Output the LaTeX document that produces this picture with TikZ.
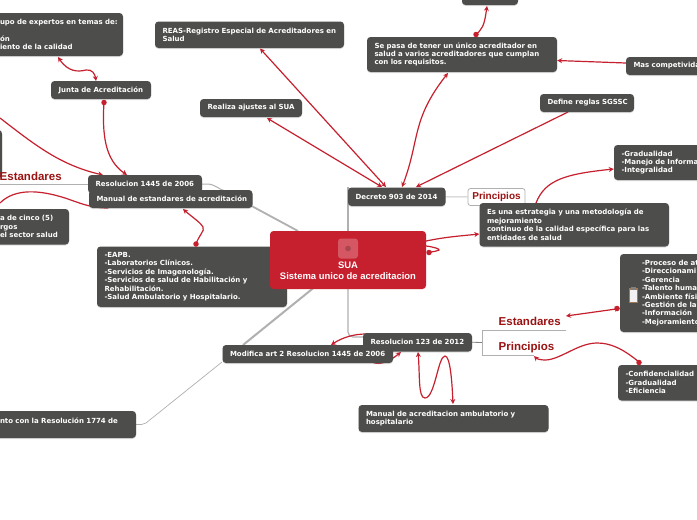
\documentclass[tikz,border=0pt]{standalone}
\usepackage{fontspec}
\setmainfont{DejaVu Sans}
\newfontfamily\arialf{Liberation Sans}
\usetikzlibrary{arrows.meta,shadows,calc}
\definecolor{boxc}{HTML}{4D4D4B}
\definecolor{redc}{HTML}{C6202F}
\definecolor{darkred}{HTML}{9B1212}
\definecolor{trunk}{HTML}{B0B0B0}
\pgfdeclarelayer{back}
\pgfsetlayers{back,main}
\tikzset{
  boxst/.style={fill=boxc,rounded corners=3.5pt,text=white,draw=none,align=left,
    font=\fontsize{7}{8.4}\selectfont\bfseries,inner ysep=0pt,inner xsep=0pt,
    drop shadow={opacity=.25,shadow xshift=0pt,shadow yshift=-1pt}},
  conn/.style={draw=redc,line width=1.2pt,line cap=round},
  arr/.style={conn,-{Stealth[length=5pt,width=5pt]}},
  arrb/.style={conn,{Stealth[length=5pt,width=5pt]}-{Stealth[length=5pt,width=5pt]}},
  dotn/.style={circle,fill=redc,inner sep=0pt,minimum size=5.5pt},
  gline/.style={draw=trunk,line width=1pt},
  headtxt/.style={font=\arialf\fontsize{11.5}{12}\selectfont\bfseries,text=darkred,inner sep=0pt}
}
% name, x1,y1,x2,y2, left pad, text
\newcommand{\bx}[7]{%
  \pgfmathsetmacro{\cxx}{(#2+#4)/2}\pgfmathsetmacro{\cyy}{(#3+#5)/2}%
  \pgfmathsetmacro{\ww}{#4-#2}\pgfmathsetmacro{\hh}{#5-#3}\pgfmathsetmacro{\tw}{#4-#2-2*#6}%
  \node[boxst,minimum width=\ww pt,minimum height=\hh pt,text width=\tw pt] (#1) at (\cxx,\cyy) {#7};}
\begin{document}
\begin{tikzpicture}[x=1pt,y=-1pt]
\useasboundingbox (0,0) rectangle (697,520);
\begin{pgfonlayer}{back}
\fill[white] (0,0) rectangle (697,520);
\end{pgfonlayer}
\clip (0,0) rectangle (697,520);

% boxes
\bx{topb}{462}{-12}{518}{5}{7}{}
\bx{sepasa}{367}{37}{557}{72}{7.5}{Se pasa de tener un único acreditador en\\salud a varios acreditadores que cumplan\\con los requisitos.}
\bx{mas}{626}{57}{720}{75}{7.5}{Mas competividad}
\bx{define}{540}{94}{634}{112}{7.5}{\mbox{Define reglas SGSSC}}
\bx{reas}{155}{21.5}{344}{48}{7.5}{REAS-Registro Especial de Acreditadores en\\Salud}
\bx{realiza}{200}{99}{302}{117}{7.5}{\mbox{Realiza ajustes al SUA}}
\bx{expertos}{-7}{13}{123}{56}{7}{\mbox{upo de expertos en temas de:}\\[8.4pt]ón\\iento de la calidad}
\bx{junta}{51}{81}{151}{99}{7.5}{Junta de Acreditación}
\bx{leftcut}{-30}{130}{2}{178}{4}{}
\bx{r1445}{88}{175}{202}{193}{7.5}{Resolucion 1445 de 2006}
\bx{manual}{89}{190}{252.5}{208}{7.5}{\mbox{Manual de estandares de acreditación}}
\bx{cinco}{-7}{209}{69}{244.5}{7}{a de cinco (5)\\rgos\\el sector salud}
\bx{eapb}{97}{246.5}{287}{307}{7.5}{-EAPB.\\-Laboratorios Clínicos.\\-Servicios de Imagenología.\\-Servicios de salud de Habilitación y\\Rehabilitación.\\-Salud Ambulatorio y Hospitalario.}
\bx{decreto}{348}{187.5}{445.5}{206}{7.5}{Decreto 903 de 2014}
\node[draw=trunk,fill=white,rounded corners=2.5pt,line width=.8pt,minimum width=57pt,minimum height=17pt,inner sep=0pt,text=darkred,font=\arialf\fontsize{10}{12}\selectfont\bfseries] (princ) at (496.5,197) {Principios};
\bx{esuna}{479.5}{203}{669}{246.5}{7.5}{Es una estrategia y una metodología de\\mejoramiento\\continuo de la calidad específica para las\\entidades de salud}
\bx{grad}{614}{145}{720}{180}{7.5}{-Gradualidad\\-Manejo de Informa\\-Integralidad}
\bx{proc}{620}{254}{730}{332}{22}{-Proceso de at\\-Direccionami\\-Gerencia\\-Talento huma\\-Ambiente físi\\-Gestión de la\\-Información\\-Mejoramiento}
\bx{res123}{363}{333}{472}{351.5}{7.5}{Resolucion 123 de 2012}
\bx{modif}{222.5}{345}{393}{363}{7.5}{Modifica art 2 Resolucion 1445 de 2006}
\bx{mamb}{358.5}{405}{548.5}{432}{7.5}{Manual de acreditacion ambulatorio y\\hospitalario}
\bx{conf}{618}{365}{720}{400.5}{7.5}{-Confidencialidad\\-Gradualidad\\-Eficiencia}
\bx{r1774}{-7}{411}{136}{438}{7}{nto con la Resolución 1774 de\\\mbox{}}

% central node
\node[fill=redc,rounded corners=3.5pt,minimum width=156pt,minimum height=58pt,inner sep=0pt] (sua) at (348,260) {};
\fill[white,opacity=.25,rounded corners=3pt] (338,238.5) rectangle (358,258.5);
\fill[black,opacity=.2] (348,248.5) circle (2.8);
\node[text=white,align=center,font=\arialf\fontsize{9.45}{11.2}\selectfont\bfseries,inner sep=0pt] (suatxt) at (348,271) {SUA\\Sistema unico de acreditacion};

% clipboard icon
\fill[brown!70!black!80] (628.5,287.5) rectangle (638,303);
\fill[white!90!gray] (630,289.5) rectangle (636.5,301.5);
\fill[gray] (631,286.5) rectangle (635.5,289.5);

% headings
\node[headtxt,anchor=base west] (est1) at (-0.5,180) {Estandares};
\node[headtxt,anchor=base west] (est2) at (498.5,325) {Estandares};
\node[headtxt,anchor=base west] (pr2) at (498.5,350) {Principios};

\coordinate (fork) at (482,342.5);
\coordinate (offl) at (0,184);
\coordinate (est2r) at (566,330);
\coordinate (pr2r) at (534,355.5);

\begin{pgfonlayer}{back}
% grey branches
\draw[gline,line width=1pt] (offl) -- (r1445.west |- offl);
\draw[gline,line width=1pt] (r1445.east |- 0,184) -- (208,184) .. controls (212,184) and (216,186.5) .. (222,190);
\draw[gline,line width=1.8pt] (222,190) -- ($(sua.center)+(-50,-29)$);
\draw[gline,line width=2pt] (sua.center) -- (243,345);
\draw[gline,line width=.7pt] (222,362) -- (146,423) .. controls (143,425) and (140,424.5) .. (r1774.east);
\draw[gline,line width=1.2pt] (sua.center) -- (sua.center |- decreto.north);
\draw[draw=trunk,line width=1.2pt,rounded corners=5pt] (sua.center) -- (348,337) -- (res123.west |- 0,337);
\draw[gline,line width=1pt,draw=trunk!70] (decreto.east) -- (princ.west);
\draw[gline,line width=.8pt,draw=gray] (res123.east) -- (fork);
\draw[gline,line width=.8pt] (est2r) -- (482,330) -- (482,355.5) -- (pr2r);

% red connectors
\draw[arr] (476,35) .. controls (482,28) and (484,28) .. (487,6);
\draw[arr] (mas.west |- 0,63) -- (sepasa.east |- 0,60.5);
\draw[arrb] (402,187) .. controls (420,140) and (411,120) .. (448,73);
\draw[arr] (568,112) -- (416,187);
\draw[arrb] (260,48.5) -- (386,187);
\draw[arrb] (267,118) -- (382,187);
\draw[arr] (536,203) .. controls (545,180) and (565,174) .. (grad.west |- 0,169);
\draw[arr] (sua.east |- 0,241) .. controls (445,237) and (460,236) .. (esuna.west |- 0,234);
\draw[conn] (sua.east |- 0,246) .. controls (434,247) and (440,249) .. (439,250) .. controls (437,251) and (433,252) .. (429,252);
\draw[arrb] (proc.west |- 0,308.5) -- (est2r |- 0,316);
\draw[arr] (639,362) .. controls (622,348) and (610,343) .. (597,343) .. controls (578,343) and (560,360) .. (545,360) .. controls (541,360) and (537,359) .. (534,356);
\draw[arrb] (418,352) .. controls (420,375) and (418,398) .. (425,398) .. controls (435,398) and (438,356) .. (445,356) .. controls (450,356) and (452,380) .. (453,404);
\draw[arr] (372,362) .. controls (380,366) and (390,361) .. (401,352);
\draw[arr] (366,334) .. controls (355,334) and (343,337) .. (331,345);
\draw[arr] (104,102) .. controls (102,135) and (105,160) .. (127,175);
\draw[arrb] (58,57) .. controls (68,72) and (78,72) .. (86,70) .. controls (92,69) and (95,74) .. (96,81);
\draw[arr] (0,118) .. controls (35,145) and (60,165) .. (103,175);
\draw[conn] (0,203) .. controls (15,188) and (40,190) .. (65,198) .. controls (80,203) and (90,208) .. (108,208);
\draw[arr] (196,244) .. controls (199,235) and (205,231) .. (203,227) .. controls (200,222) and (192,217) .. (183,209);
\end{pgfonlayer}

% end dots
\node[dotn] (d1) at (476,34.5) {};
\node[dotn] (d2) at (429,252.5) {};
\node[dotn] (d3) at (617,308.5) {};
\node[dotn] (d4) at (639,362.5) {};
\node[dotn] (d5) at (104,102.5) {};
\node[dotn] (d6) at (196,244) {};
\end{tikzpicture}
\end{document}
